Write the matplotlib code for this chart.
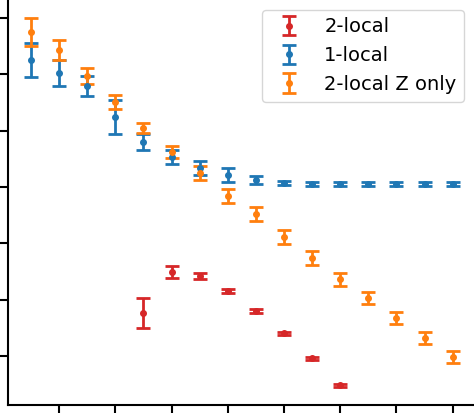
import numpy as np
import matplotlib.pyplot as plt

x_one = np.arange(1, 17)
one_local = [6.25, 6.02, 5.79, 5.24, 4.80, 4.53, 4.34, 4.21, 4.12, 4.07, 4.05, 4.05, 4.05, 4.05, 4.05, 4.05]
one_err = [0.30, 0.23, 0.18, 0.30, 0.14, 0.12, 0.12, 0.12, 0.07, 0.04, 0.04, 0.04, 0.04, 0.04, 0.04, 0.04]

x_z = np.arange(1, 17)
z_only = [6.75, 6.43, 5.97, 5.51, 5.05, 4.62, 4.25, 3.84, 3.52, 3.11, 2.74, 2.36, 2.03, 1.67, 1.32, 0.98]
z_err = [0.25, 0.18, 0.14, 0.12, 0.09, 0.10, 0.12, 0.12, 0.12, 0.12, 0.12, 0.12, 0.11, 0.11, 0.11, 0.11]

x_two = np.arange(5, 13)
two_local = [1.76, 2.49, 2.42, 2.15, 1.80, 1.40, 0.96, 0.48]
two_err = [0.27, 0.10, 0.06, 0.04, 0.03, 0.03, 0.03, 0.03]

fig = plt.figure(figsize=(4.74, 4.13), dpi=100)
ax = fig.add_axes([8/474, 8/413, 466/474, 405/413])

kw = dict(fmt='.', capsize=5, elinewidth=2, capthick=2, markersize=8)
ax.errorbar(x_two, two_local, yerr=two_err, color='#d62728', label='2-local', **kw)
ax.errorbar(x_one, one_local, yerr=one_err, color='#1f77b4', label='1-local', **kw)
ax.errorbar(x_z, z_only, yerr=z_err, color='#ff7f0e', label='2-local Z only', **kw)

ax.set_xlim(0.18, 16.76)
ax.set_ylim(0.13, 7.32)
ax.set_xticks(np.arange(2, 17, 2))
ax.set_yticks(np.arange(1, 8))
ax.tick_params(labelbottom=False, labelleft=False, length=7, width=1.5)
ax.spines['top'].set_visible(False)
ax.spines['right'].set_visible(False)
for s in ['left', 'bottom']:
    ax.spines[s].set_linewidth(1.5)
ax.legend(loc='upper right', fontsize=14, borderaxespad=0.5)

fig.savefig('out.png')
